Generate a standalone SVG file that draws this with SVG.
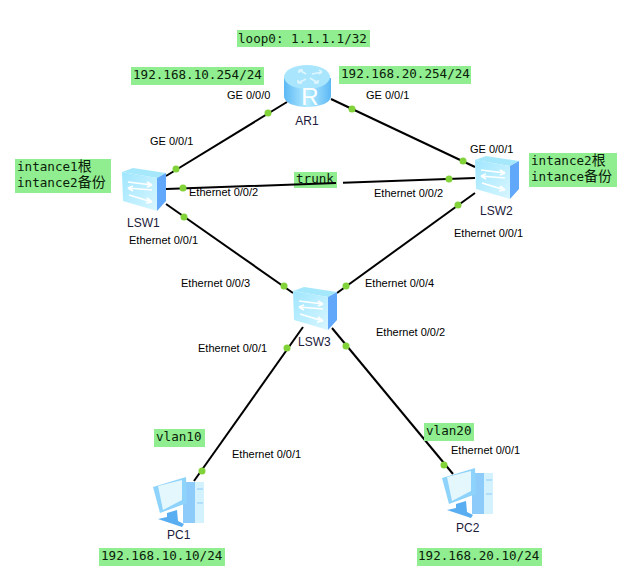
<svg xmlns="http://www.w3.org/2000/svg" width="621" height="581" viewBox="0 0 621 581">
<style>
text{font-family:"Liberation Sans",Arial,sans-serif;fill:#000}
.p{font-size:11px}
.n{font-size:12px;fill:#1a1a3a}
.m{font-family:"DejaVu Sans Mono","Noto Sans CJK SC",monospace;font-size:12.6px;fill:#0a200a}
.c{font-size:14px}
.g{fill:#90ee90}
.l{stroke:#000;stroke-width:2;fill:none}
.d{fill:#82d23a}
</style>
<defs>
<linearGradient id="f" x1="0" y1="0" x2="1" y2="1"><stop offset="0" stop-color="#9fe6ff"/><stop offset="1" stop-color="#d8f6ff"/></linearGradient>
<linearGradient id="b" x1="0" y1="0" x2="1" y2="0"><stop offset="0" stop-color="#5cb8f5"/><stop offset=".5" stop-color="#b5ecff"/><stop offset="1" stop-color="#5cb8f5"/></linearGradient>
<g id="sw">
<path d="M0 4L11 0L44 5L35 10Z" fill="#a6e8fb"/>
<path d="M0 4L35 10V43L1 33Z" fill="url(#f)"/>
<path d="M35 10L44 5V33L35 43Z" fill="#62a8fa"/>
<path d="M6 14L30 17M30 17L25 14M30 17L25 19M30 22L6 20M6 20L11 18M6 20L11 23M7 27L30 34M30 34L25 30M30 34L24 35" stroke="#fff" stroke-width="1.7" fill="none"/>
</g>
<g id="pc">
<path d="M30 5L51 5V46L30 46Z" fill="#8ccbfa"/>
<path d="M42 5H51V46H42Z" fill="#d4f2fd"/>
<path d="M44 12H50M44 26H50" stroke="#8ccbfa"/>
<path d="M14 36L24 33L25 44L31 47L29 50L5 42L14 40Z" fill="#58aef0"/>
<path d="M0 10L33 0L34 26L7 36Z" fill="#8ed3fb"/>
<path d="M5 9L29 3V23L10 33Z" fill="#e4f7fd"/>
</g>
</defs>
<rect width="621" height="581" fill="#fff"/>
<g id="trunk-note">
<rect class="g" x="294" y="172" width="43" height="16"/><text class="m" x="296" y="183">trunk</text>
</g>
<g id="connectors">
<path class="l" d="M287 102L166 176"/>
<path class="l" d="M331 99L475 167"/>
<path class="l" d="M166 189L336 183M343 182.7L475 178"/>
<path class="l" d="M166 204L293 293"/>
<path class="l" d="M475 193L337 293"/>
<path class="l" d="M303 327L194 481"/>
<path class="l" d="M332 328L453 474"/>
<circle class="d" cx="268" cy="113" r="3.5"/><circle class="d" cx="176" cy="169" r="3.5"/>
<circle class="d" cx="352" cy="109" r="3.5"/><circle class="d" cx="463" cy="161" r="3.5"/>
<circle class="d" cx="183" cy="188" r="3.5"/><circle class="d" cx="449" cy="179" r="3.5"/>
<circle class="d" cx="184" cy="217" r="3.5"/><circle class="d" cx="284" cy="286" r="3.5"/>
<circle class="d" cx="458" cy="205" r="3.5"/><circle class="d" cx="346" cy="286" r="3.5"/>
<circle class="d" cx="287" cy="348" r="3.5"/><circle class="d" cx="202" cy="471" r="3.5"/>
<circle class="d" cx="346" cy="346" r="3.5"/><circle class="d" cx="444" cy="465" r="3.5"/>
</g>
<g id="port-labels">
<text class="p" x="227" y="99">GE 0/0/0</text>
<text class="p" x="366" y="99">GE 0/0/1</text>
<text class="p" x="150" y="145">GE 0/0/1</text>
<text class="p" x="470" y="153">GE 0/0/1</text>
<text class="p" x="189" y="196">Ethernet 0/0/2</text>
<text class="p" x="374" y="197">Ethernet 0/0/2</text>
<text class="p" x="129" y="244">Ethernet 0/0/1</text>
<text class="p" x="454" y="237">Ethernet 0/0/1</text>
<text class="p" x="181" y="287">Ethernet 0/0/3</text>
<text class="p" x="365" y="287">Ethernet 0/0/4</text>
<text class="p" x="198" y="352">Ethernet 0/0/1</text>
<text class="p" x="376" y="336">Ethernet 0/0/2</text>
<text class="p" x="232" y="458">Ethernet 0/0/1</text>
<text class="p" x="451" y="454">Ethernet 0/0/1</text>
</g>
<g id="AR1">
<path d="M284 78V96C284 103 295 107 307 107S331 103 331 96V78Z" fill="url(#b)"/>
<ellipse cx="307" cy="77" rx="23" ry="12" fill="#a9e6fd"/>
<path d="M299 70L306 74M299 70V73M299 70H303M322 72L312 74M322 72L319 70M322 72L319 74M298 83L306 79M298 83H302M298 83V80M318 83L310 78M318 83H314M318 83V80" stroke="#dff6ff" stroke-width="1.6" fill="none"/>
<text x="310" y="105" text-anchor="middle" style="font-size:24px;fill:#fff">R</text>
<text class="n" x="307" y="125" text-anchor="middle">AR1</text>
</g>
<g id="LSW1"><use href="#sw" x="122" y="168"/><text class="n" x="127" y="227">LSW1</text></g>
<g id="LSW2"><use href="#sw" x="475" y="156"/><text class="n" x="480" y="215">LSW2</text></g>
<g id="LSW3"><use href="#sw" x="293" y="287"/><text class="n" x="298" y="346">LSW3</text></g>
<g id="PC1"><use href="#pc" x="153" y="477"/><text class="n" x="167" y="539">PC1</text></g>
<g id="PC2"><use href="#pc" x="442" y="468"/><text class="n" x="456" y="532">PC2</text></g>
<g id="notes">
<rect class="g" x="237" y="30" width="133" height="17"/><text class="m" x="238" y="43">loop0: 1.1.1.1/32</text>
<rect class="g" x="131" y="67" width="133" height="18"/><text class="m" x="133" y="79">192.168.10.254/24</text>
<rect class="g" x="339" y="66" width="132" height="18"/><text class="m" x="341" y="78">192.168.20.254/24</text>
<rect class="g" x="15" y="159" width="96" height="34"/><text class="m" x="17" y="171">intance1<tspan class="c">根</tspan></text><text class="m" x="17" y="187">intance2<tspan class="c">备份</tspan></text>
<rect class="g" x="529" y="153" width="88" height="34"/><text class="m" x="531" y="165">intance2<tspan class="c">根</tspan></text><text class="m" x="531" y="181">intance<tspan class="c">备份</tspan></text>
<rect class="g" x="154" y="429" width="51" height="18"/><text class="m" x="156" y="441">vlan10</text>
<rect class="g" x="424" y="423" width="50" height="18"/><text class="m" x="426" y="435">vlan20</text>
<rect class="g" x="99" y="548" width="126" height="18"/><text class="m" x="101" y="560">192.168.10.10/24</text>
<rect class="g" x="417" y="548" width="125" height="18"/><text class="m" x="418" y="560">192.168.20.10/24</text>
</g>
</svg>
